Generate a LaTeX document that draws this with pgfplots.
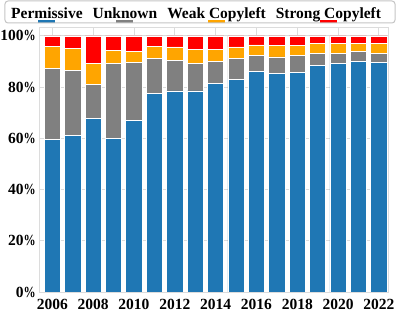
\documentclass[border=0pt]{standalone}
\usepackage{pgfplots}
\pgfplotsset{compat=1.18}
\usepackage{fontspec}
\setmainfont{Liberation Serif}
\definecolor{pblue}{HTML}{1F77B4}
\definecolor{pgray}{HTML}{808080}
\definecolor{porange}{HTML}{FFA500}
\definecolor{pred}{HTML}{FF0000}
\definecolor{gridc}{HTML}{DCDCDC}
\definecolor{framec}{HTML}{C4C4C4}
\newcommand\lent[2]{\ooalign{#2\cr\hidewidth\raisebox{-5bp}{\textcolor{#1}{\rule{17bp}{3bp}}}\hidewidth\cr}}
\newcommand\pct{\scalebox{0.78}[1]{\%}}
\pgfplotstableread{
year P U W S
2006 59.7 27.7 8.6 4.0
2007 61.1 25.5 8.6 4.8
2008 67.8 13.1 8.2 10.9
2009 59.8 29.4 5.0 5.8
2010 66.9 22.8 4.2 6.1
2011 77.4 13.7 4.9 4.0
2012 78.5 12.0 5.2 4.3
2013 78.5 10.8 5.4 5.3
2014 81.5 8.5 4.8 5.2
2015 83.1 8.2 4.4 4.3
2016 86.2 6.3 4.0 3.5
2017 85.4 6.4 4.4 3.8
2018 85.9 6.4 3.9 3.8
2019 88.6 4.5 3.9 3.0
2020 89.1 4.0 4.0 2.9
2021 90.1 3.8 3.2 2.9
2022 89.5 3.7 3.7 3.1
}\datatable
\begin{document}
\begin{tikzpicture}[font=\fontsize{15.5bp}{18bp}\selectfont\bfseries]
\begin{axis}[
  scale only axis, width=349.2bp, height=264.3bp,
  xmin=2005.36, xmax=2022.47, ymin=0, ymax=103.2,
  ybar stacked, bar width=0.8,
  xtick={2006,2008,...,2022}, ytick={0,20,...,100},
  /pgf/number format/assume math mode=true,
  /pgf/number format/set thousands separator={},
  yticklabel={\pgfmathprintnumber{\tick}\pct},
  xticklabel style={inner sep=0pt, yshift=-6.5bp},
  yticklabel style={inner sep=0pt, xshift=-3.5bp},
  major tick length=0pt,
  grid=major, grid style={draw=gridc, line width=0.9bp},
  axis line style={draw=gridc, line width=0.9bp},
  every axis plot/.append style={draw=white, line width=0.7bp},
  legend image code/.code={},
  legend columns=4,
  legend style={at={(-0.0982,1.0178)}, anchor=south west,
    draw=none, fill=none, inner sep=1bp,
    font=\fontsize{15.5bp}{18bp}\selectfont\bfseries,
    nodes={inner xsep=5bp, inner ysep=2bp},
    /tikz/every odd column/.style={column sep=0pt},
    /tikz/every even column/.style={column sep=0pt}},
]
\addplot[fill=pblue] table[x=year,y=P]{\datatable};
\addlegendentry{\lent{pblue}{Permissive}}
\addplot[fill=pgray] table[x=year,y=U]{\datatable};
\addlegendentry{\lent{pgray}{Unknown}}
\addplot[fill=porange] table[x=year,y=W]{\datatable};
\addlegendentry{\lent{porange}{Weak Copyleft}}
\addplot[fill=pred] table[x=year,y=S]{\datatable};
\addlegendentry{\lent{pred}{Strong Copyleft}}
\coordinate (sw) at (rel axis cs:0,0);
\coordinate (ne) at (rel axis cs:1,1);
\end{axis}
\draw[framec, line width=1bp, rounded corners=3bp] ([shift={(-34.3bp,4.7bp)}]sw |- ne) rectangle ([shift={(6.5bp,26.7bp)}]ne);
\pgfresetboundingbox
\path ([shift={(-39.3bp,-21bp)}]sw) rectangle ([shift={(10.5bp,27.7bp)}]ne);
\end{tikzpicture}
\end{document}
